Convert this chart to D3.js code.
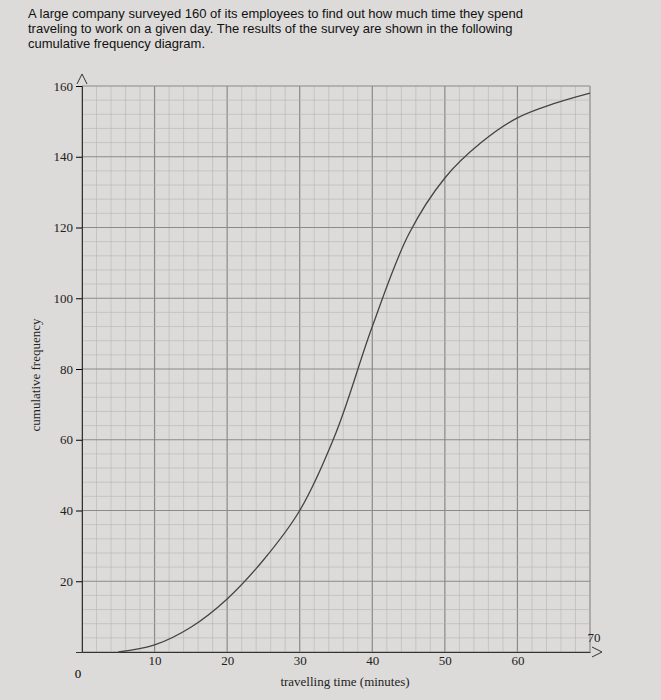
<!DOCTYPE html>
<html>
<head>
<meta charset="utf-8">
<script src="https://cdn.jsdelivr.net/npm/d3@7"></script>
<style>
  body { margin: 0; background: #d9d8d6; }
  .title { font-family: "Liberation Sans", Arial, sans-serif; font-size: 13px; fill: #111; }
  .tick text { font-family: "Liberation Serif", serif; font-size: 13px; fill: #222; }
</style>
</head>
<body>
<svg id="chart" width="661" height="700"></svg>
<script>
// travelling time (minutes) and cumulative frequency
const times = [5, 10, 15, 20, 25, 30, 35, 40, 45, 50, 55, 60, 65, 70];
const cumFreq = [0, 2, 7, 15, 26, 40, 62, 92, 118, 134, 144, 151, 155, 158];
const xTicks = [10, 20, 30, 40, 50, 60];
const yTicks = [20, 40, 60, 80, 100, 120, 140, 160];
const titleLines = [
  "A large company surveyed 160 of its employees to find out how much time they spend",
  "traveling to work on a given day. The results of the survey are shown in the following",
  "cumulative frequency diagram."
];

const svg = d3.select("#chart");
const x = d3.scaleLinear().domain([0, 70]).range([82, 590]);
const y = d3.scaleLinear().domain([0, 160]).range([652, 86]);

svg.append("rect").attr("width", 661).attr("height", 700).attr("fill", "#dcdbd9");

svg.selectAll(".title").data(titleLines).join("text")
  .attr("class", "title")
  .attr("x", 28).attr("y", (d, i) => 18 + i * 15)
  .text(d => d);

// fine grid
const g = svg.append("g");
d3.range(0, 70.01, 2).forEach(v => {
  g.append("line").attr("x1", x(v)).attr("x2", x(v)).attr("y1", y(0)).attr("y2", y(160))
    .attr("stroke", v % 10 === 0 ? "#8a8a8a" : "#b5b5b5").attr("stroke-width", v % 10 === 0 ? 1.2 : 0.6);
});
d3.range(0, 160.01, 4).forEach(v => {
  g.append("line").attr("x1", x(0)).attr("x2", x(70)).attr("y1", y(v)).attr("y2", y(v))
    .attr("stroke", v % 20 === 0 ? "#8a8a8a" : "#b5b5b5").attr("stroke-width", v % 20 === 0 ? 1.2 : 0.6);
});

// axes
svg.append("g").attr("transform", `translate(0,${y(0)})`)
  .call(d3.axisBottom(x).tickValues(xTicks).tickSize(0).tickPadding(4))
  .call(a => a.select(".domain").attr("stroke", "#333"));
svg.append("g").attr("transform", `translate(${x(0)},0)`)
  .call(d3.axisLeft(y).tickValues(yTicks).tickSize(6).tickPadding(3))
  .call(a => a.select(".domain").attr("stroke", "#333"));
svg.append("text").attr("x", x(0) - 4).attr("y", y(0) + 26).attr("text-anchor", "middle")
  .attr("font-family", "Liberation Serif").attr("font-size", 13).text("0");
svg.append("text").attr("x", x(70) + 4).attr("y", y(0) - 10).attr("text-anchor", "middle")
  .attr("font-family", "Liberation Serif").attr("font-size", 13).attr("fill", "#222").text("70");

// arrowheads
svg.append("path").attr("d", `M${x(0) - 5},${y(160) - 2} L${x(0)},${y(160) - 12} L${x(0) + 5},${y(160) - 2}`)
  .attr("fill", "none").attr("stroke", "#333");
svg.append("path").attr("d", `M${x(70) + 2},${y(0) - 5} L${x(70) + 12},${y(0)} L${x(70) + 2},${y(0) + 5}`)
  .attr("fill", "none").attr("stroke", "#333");

// axis labels
svg.append("text").attr("x", 345).attr("y", 686).attr("text-anchor", "middle")
  .attr("font-family", "Liberation Serif").attr("font-size", 13).attr("fill", "#222")
  .text("travelling time (minutes)");
svg.append("text").attr("transform", "translate(40,375) rotate(-90)").attr("text-anchor", "middle")
  .attr("font-family", "Liberation Serif").attr("font-size", 13).attr("fill", "#222")
  .text("cumulative frequency");

// curve
const line = d3.line().x((d, i) => x(times[i])).y(d => y(d)).curve(d3.curveCatmullRom);
svg.append("path").datum(cumFreq).attr("d", line)
  .attr("fill", "none").attr("stroke", "#444").attr("stroke-width", 1.3);
</script>
</body>
</html>
